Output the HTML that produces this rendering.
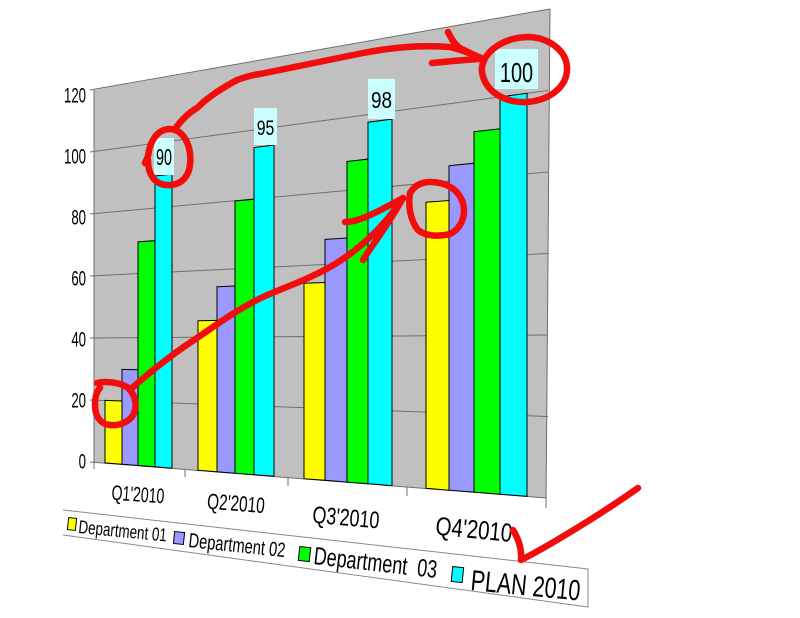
<!DOCTYPE html>
<html><head><meta charset="utf-8"><style>
html,body{margin:0;padding:0;background:#fff;}
svg{display:block;}
text{font-family:"Liberation Sans",Arial,sans-serif;fill:#000;}
</style></head><body>
<svg width="800" height="618" viewBox="0 0 800 618" xmlns="http://www.w3.org/2000/svg">
<rect width="800" height="618" fill="#fff"/>
<!-- plot area -->
<polygon points="94,90 550,9 546,498 94,462" fill="#c0c0c0"/>
<g stroke="#6e6e6e" stroke-width="1" fill="none">
<line x1="90" y1="400" x2="548" y2="416.5"/>
<line x1="90" y1="338" x2="548" y2="335"/>
<line x1="90" y1="276" x2="548" y2="253.5"/>
<line x1="90" y1="214" x2="548" y2="172"/>
<line x1="90" y1="152" x2="548" y2="90.5"/>
<line x1="90" y1="90" x2="550" y2="9"/>
<line x1="94" y1="90" x2="94" y2="462"/>
<line x1="550" y1="9" x2="546" y2="508"/>
<line x1="90" y1="462" x2="546" y2="498"/>
<line x1="94" y1="462" x2="94" y2="469"/>
<line x1="185" y1="469" x2="185" y2="477"/>
<line x1="288" y1="477" x2="288" y2="486"/>
<line x1="407" y1="487" x2="407" y2="496"/>
</g>
<!-- y labels -->
<g font-size="13.2">
<text transform="translate(86,468.5) scale(1,1.59)" text-anchor="end">0</text>
<text transform="translate(86,407.5) scale(1,1.59)" text-anchor="end">20</text>
<text transform="translate(86,346.5) scale(1,1.59)" text-anchor="end">40</text>
<text transform="translate(86,285.5) scale(1,1.59)" text-anchor="end">60</text>
<text transform="translate(86,224.5) scale(1,1.59)" text-anchor="end">80</text>
<text transform="translate(86,163.5) scale(1,1.59)" text-anchor="end">100</text>
<text transform="translate(86,102.5) scale(1,1.59)" text-anchor="end">120</text>
</g>
<!-- bars -->
<g stroke="#000" stroke-width="1">
<polygon fill="#ffff00" points="105,400.4 122,401.0 122,464.2 105,462.9"/>
<polygon fill="#9999ff" points="122,369.4 138,369.7 138,465.5 122,464.2"/>
<polygon fill="#00ff00" points="138,241.9 155,240.6 155,466.8 138,465.5"/>
<polygon fill="#00ffff" points="155,176.0 172,174.1 172,468.2 155,466.8"/>
<polygon fill="#ffff00" points="198,320.7 217,320.4 217,471.8 198,470.2"/>
<polygon fill="#9999ff" points="217,286.7 235,286.0 235,473.2 217,471.8"/>
<polygon fill="#00ff00" points="235,201.0 254,199.2 254,474.7 235,473.2"/>
<polygon fill="#00ffff" points="254,147.6 274,145.0 274,476.3 254,474.7"/>
<polygon fill="#ffff00" points="304,283.3 325,282.5 325,480.3 304,478.7"/>
<polygon fill="#9999ff" points="325,239.4 347,238.0 347,482.1 325,480.3"/>
<polygon fill="#00ff00" points="347,161.5 368,159.1 368,483.7 347,482.1"/>
<polygon fill="#00ffff" points="368,122.3 392,119.1 392,485.6 368,483.7"/>
<polygon fill="#ffff00" points="426,202.3 449,200.5 449,490.2 426,488.3"/>
<polygon fill="#9999ff" points="449,165.7 474,163.2 474,492.1 449,490.2"/>
<polygon fill="#00ff00" points="474,131.8 500,128.8 500,494.2 474,492.1"/>
<polygon fill="#00ffff" points="500,97.0 527,93.3 527,496.3 500,494.2"/>
</g>
<!-- data labels -->
<g fill="#ccffff">
<rect x="154" y="138" width="20" height="37"/>
<rect x="254" y="108" width="23" height="37"/>
<rect x="368" y="79" width="27" height="40"/>
<rect x="495" y="49" width="43" height="40"/>
</g>
<text transform="translate(164,165) scale(1,1.64)" font-size="14.3" text-anchor="middle">90</text>
<text transform="translate(265.5,135) scale(1,1.33)" font-size="15.8" text-anchor="middle">95</text>
<text transform="translate(381.5,108) scale(1,1.22)" font-size="18.9" text-anchor="middle">98</text>
<text transform="translate(516.5,82) scale(1,1.41)" font-size="19.9" text-anchor="middle">100</text>
<!-- category labels -->
<text transform="translate(138,494) rotate(4) scale(1,1.486)" font-size="14.1" y="5.05" text-anchor="middle">Q1'2010</text>
<text transform="translate(236,503) rotate(4.5) scale(1,1.43)" font-size="15.4" y="5.5" text-anchor="middle">Q2'2010</text>
<text transform="translate(346,517) rotate(5) scale(1,1.34)" font-size="17.9" y="6.4" text-anchor="middle">Q3'2010</text>
<text transform="translate(474,529) rotate(5.5) scale(1,1.27)" font-size="20.5" y="7.3" text-anchor="middle">Q4'2010</text>
<!-- legend -->
<g stroke="#8a8a8a" stroke-width="1" fill="none">
<polyline points="63,510 588,569 588,607 63,535"/>
</g>
<g stroke="#000" stroke-width="1">
<rect x="68" y="518" width="8" height="12" fill="#ffff00" transform="rotate(6 72 524)"/>
<rect x="174" y="532" width="10" height="12" fill="#9999ff" transform="rotate(6 179 538)"/>
<rect x="299" y="547" width="11" height="14" fill="#00ff00" transform="rotate(6 304 554)"/>
<rect x="452" y="567" width="11" height="15" fill="#00ffff" transform="rotate(6 457 574)"/>
</g>
<text transform="translate(78,533) rotate(5.5) scale(1,1.39)" font-size="13.4">Department 01</text>
<text transform="translate(188,547) rotate(6) scale(1,1.39)" font-size="14.7">Department 02</text>
<text transform="translate(313,564) rotate(6.5) scale(1,1.39)" font-size="18" xml:space="preserve">Department  03</text>
<text transform="translate(470,590) rotate(5.5) scale(1,1.35)" font-size="21.5">PLAN 2010</text>
<!-- red annotations -->
<g stroke="#f20c0c" stroke-width="6.5" fill="none" stroke-linecap="round" stroke-linejoin="round">
<path d="M145,163 L148,156 C150,140 158,129 170,129 C185,130 192,148 190,165 C188,180 178,186 166,185 C155,184 148,175 148,160"/>
<path d="M175,129 C180,122 188,113 197,108 C205,100 215,92 237,80 C245,77 252,75 260,74 C280,70 320,62 363,53 C395,47 420,45 450,47 C462,50 472,54 481,58"/>
<path d="M448,32 C451,38 454,44 460,48 C468,52 474,55 481,58"/>
<path d="M432,63 C445,62 460,60 480,59"/>
<path d="M527,37 C548,37 566,50 567,67 C568,85 552,100 527,102 C505,103 485,92 482,72 C480,55 500,38 527,37 Z"/>
<path d="M97,383 C105,381 118,382 127,387 C134,393 137,402 135,410 C133,420 122,426 110,425 C100,424 95,416 95,405 C95,398 96,392 100,388"/>
<path d="M132,388 C150,372 175,352 200,336 C220,322 240,308 263,297 C285,287 305,281 330,267 C360,250 385,225 403,198"/>
<path d="M345,222 C355,222 365,219 403,198"/>
<path d="M363,260 C370,248 385,230 403,198"/>
<path d="M430,182 C445,182 458,188 463,203 C466,215 462,228 450,234 C438,237 425,236 418,230 C410,220 408,205 410,193 C415,185 422,182 430,182 Z"/>
<path d="M513,530 C518,538 522,548 521,560 C545,548 600,515 638,488"/>
</g>
</svg>
</body></html>
